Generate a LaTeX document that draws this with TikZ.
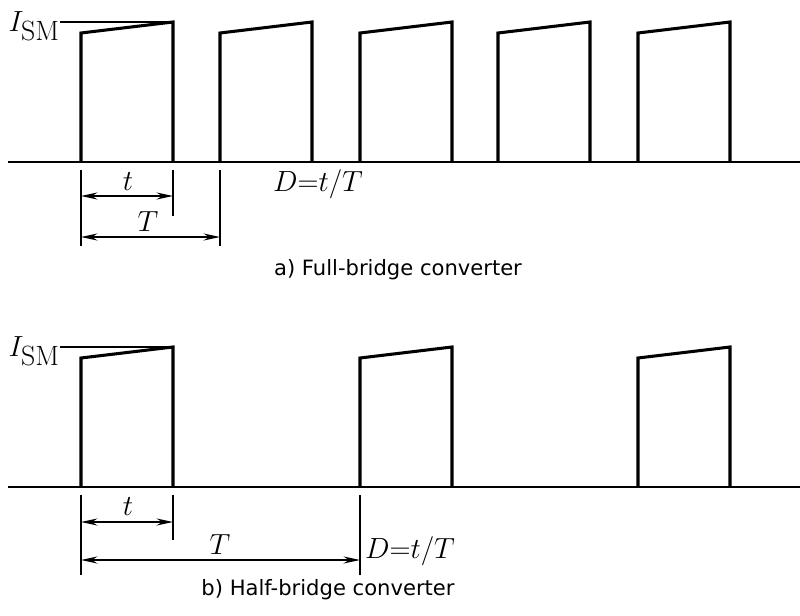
\documentclass[tikz,border=0pt]{standalone}
\usepackage{fontspec}
\newfontfamily\capfont{DejaVu Sans}
\usetikzlibrary{arrows.meta}
\begin{document}
\begin{tikzpicture}[x=0.03cm,y=-0.03cm,
  wave/.style={line width=2.6pt,line join=miter},
  base/.style={line width=1.6pt},
  tick/.style={line width=1.2pt},
  dim/.style={line width=1.2pt,{Stealth[length=14pt,width=6pt]}-{Stealth[length=14pt,width=6pt]}},
  lab/.style={font=\fontsize{25}{28}\selectfont,inner sep=0pt},
  big/.style={font=\fontsize{34}{36}\selectfont,inner sep=0pt,anchor=east},
  captxt/.style={font=\capfont\fontsize{18}{21}\selectfont,inner sep=0pt}]
\useasboundingbox (0,0) rectangle (800,616);
% ---- a) ----
\draw[base] (8,162) -- (800,162);
\foreach \x in {81,220,360,498,638}
  \draw[wave] (\x,162) -- (\x,33) -- (\x+92,22) -- (\x+92,162);
\draw[tick] (60,22) -- (173,22);
\node[big] (ia) at (60,26) {$I_{\mathrm{SM}}$};
\coordinate (a1) at (81,170); \coordinate (a1e) at (81,246);
\coordinate (a2) at (173,170); \coordinate (a2e) at (173,216);
\coordinate (a3) at (220,170); \coordinate (a3e) at (220,246);
\draw[tick] (a1) -- (a1e); \draw[tick] (a2) -- (a2e); \draw[tick] (a3) -- (a3e);
\coordinate (ta1) at (81,196); \coordinate (ta2) at (173,196);
\coordinate (Ta1) at (81,237); \coordinate (Ta2) at (220,237);
\draw[dim] (ta1) -- (ta2);
\draw[dim] (Ta1) -- (Ta2);
\node[lab] (lt) at (128,182) {$t$};
\node[lab] (lT) at (148,222) {$T$};
\node[lab] (Da) at (318,184) {$D{=}t/T$};
\node[captxt] (ca) at (398,270) {a) Full-bridge converter};
% ---- b) ----
\draw[base] (8,487) -- (800,487);
\foreach \x in {81,360,638}
  \draw[wave] (\x,487) -- (\x,358) -- (\x+92,347) -- (\x+92,487);
\draw[tick] (60,347) -- (173,347);
\node[big] (ib) at (60,351) {$I_{\mathrm{SM}}$};
\coordinate (b1) at (81,495); \coordinate (b1e) at (81,575);
\coordinate (b2) at (173,495); \coordinate (b2e) at (173,540);
\coordinate (b3) at (360,495); \coordinate (b3e) at (360,575);
\draw[tick] (b1) -- (b1e); \draw[tick] (b2) -- (b2e); \draw[tick] (b3) -- (b3e);
\coordinate (tb1) at (81,522); \coordinate (tb2) at (173,522);
\coordinate (Tb1) at (81,560); \coordinate (Tb2) at (360,560);
\draw[dim] (tb1) -- (tb2);
\draw[dim] (Tb1) -- (Tb2);
\node[lab] (lt2) at (128,507) {$t$};
\node[lab] (lT2) at (220,545) {$T$};
\node[lab] (Db) at (410,551) {$D{=}t/T$};
\node[captxt] (cb) at (328,590) {b) Half-bridge converter};
\end{tikzpicture}
\end{document}
